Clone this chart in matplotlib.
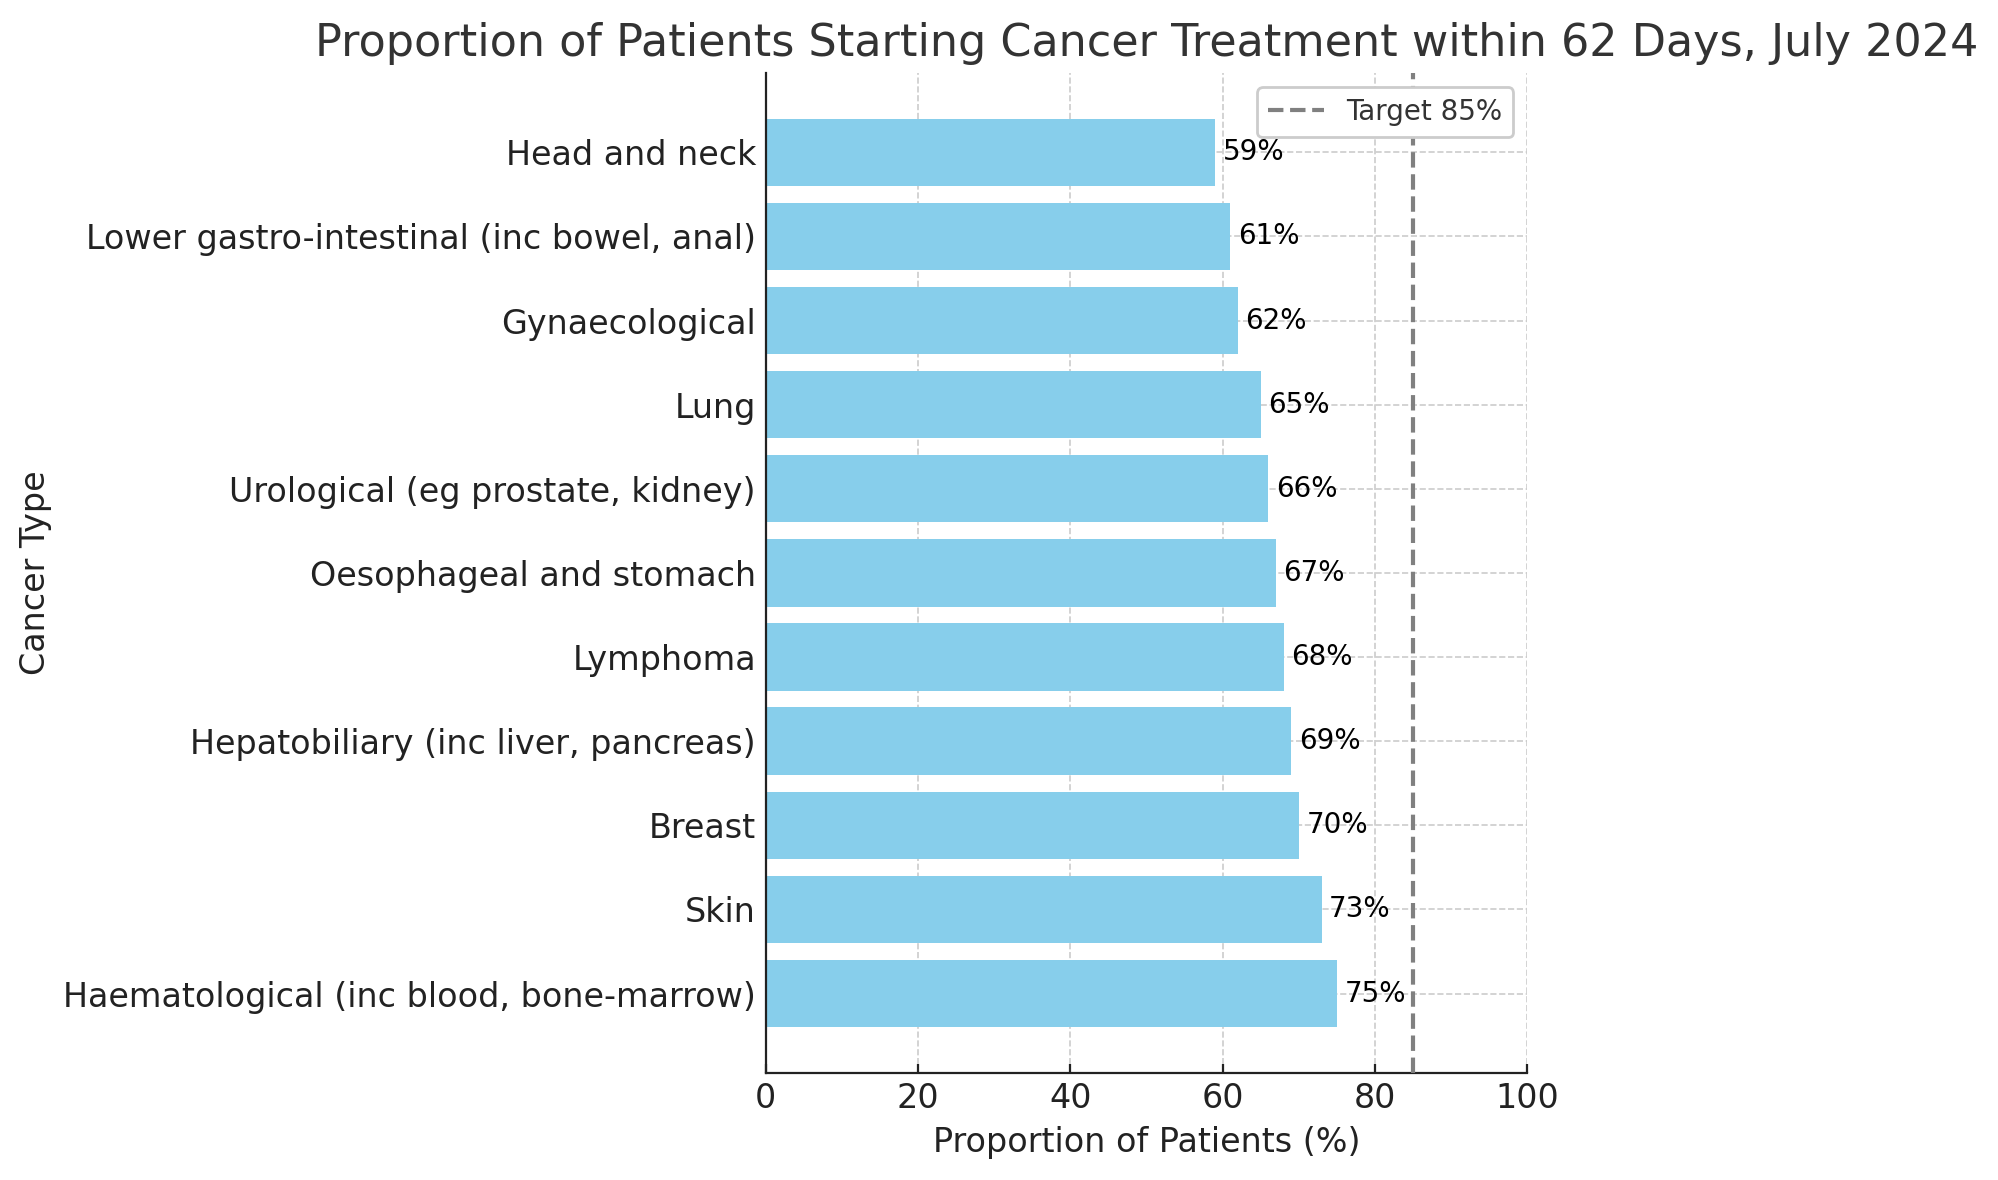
# Cancer 62-day treatment proportions, July 2024
import matplotlib
matplotlib.use("Agg")
import matplotlib.pyplot as plt

# data (top bar first in the picture -> reversed for barh)
cancer_types = [
    "Haematological (inc blood, bone-marrow)",
    "Skin",
    "Breast",
    "Hepatobiliary (inc liver, pancreas)",
    "Lymphoma",
    "Oesophageal and stomach",
    "Urological (eg prostate, kidney)",
    "Lung",
    "Gynaecological",
    "Lower gastro-intestinal (inc bowel, anal)",
    "Head and neck",
]
proportions = [75, 73, 70, 69, 68, 67, 66, 65, 62, 61, 59]
target = 85
x_ticks = [0, 20, 40, 60, 80, 100]

text_col = "#333333"

fig = plt.figure(figsize=(9.995, 5.9), dpi=200)
ax = fig.add_axes([0.383, 0.091, 0.381, 0.847])

ax.barh(cancer_types, proportions, height=0.8, color="skyblue", zorder=2)

# value labels at the end of each bar
for i, v in enumerate(proportions):
    ax.text(v + 1, i, f"{v}%", va="center", ha="left", fontsize=10, color="black", zorder=3)

ax.axvline(target, color="gray", linestyle="--", linewidth=1.5, label="Target 85%", zorder=3)

ax.set_xlim(0, 100)
ax.set_xticks(x_ticks)
ax.grid(True, linestyle="--", linewidth=0.6, color="#cccccc", zorder=0)
ax.set_axisbelow(True)

for side in ["top", "right"]:
    ax.spines[side].set_visible(False)
for side in ["left", "bottom"]:
    ax.spines[side].set_color("#222222")
    ax.spines[side].set_linewidth(0.8)

ax.tick_params(axis="both", direction="in", length=3.2, width=0.8, colors="#222222",
               labelsize=12, labelcolor="#222222")

ax.set_xlabel("Proportion of Patients (%)", fontsize=12, color="#222222")
ax.set_ylabel("Cancer Type", fontsize=12, color="#222222")
ax.set_title("Proportion of Patients Starting Cancer Treatment within 62 Days, July 2024",
             fontsize=16, color=text_col)

leg = ax.legend(loc="upper right", fontsize=10, framealpha=1, edgecolor="#cccccc")
for t in leg.get_texts():
    t.set_color(text_col)

fig.savefig("out.png", dpi=200)
